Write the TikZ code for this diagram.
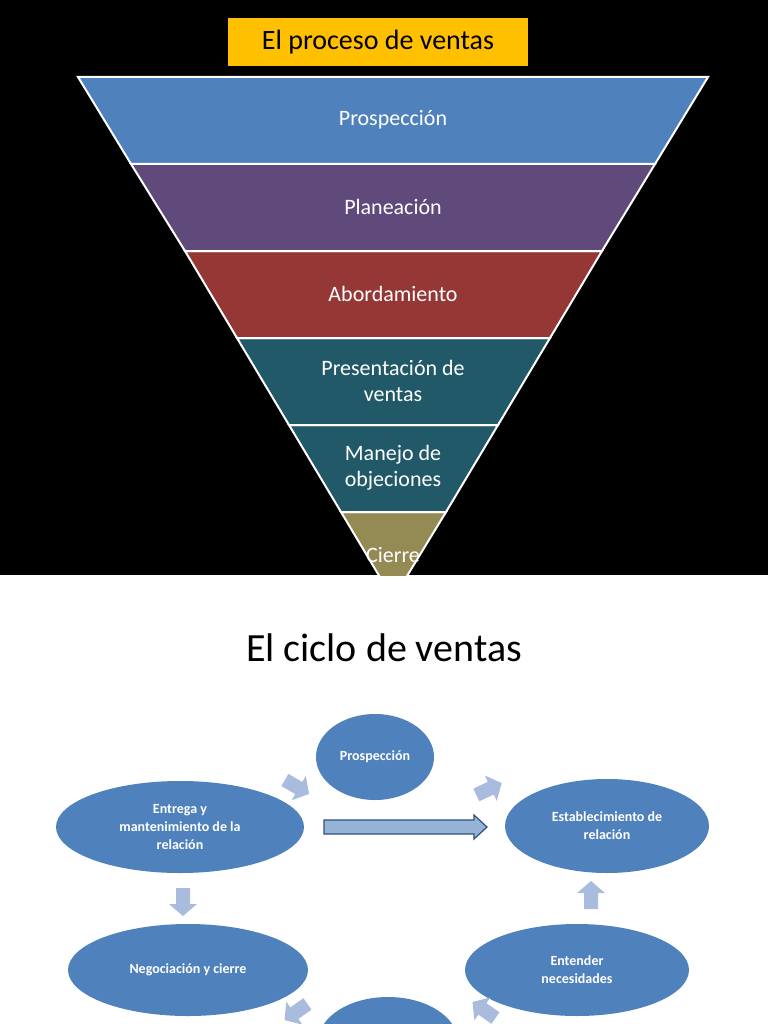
\documentclass[tikz,border=0pt]{standalone}
\usepackage{fontspec}
\setmainfont{Carlito}
\usetikzlibrary{shapes.geometric}
\definecolor{cProsp}{HTML}{4F81BD}
\definecolor{cPlan}{HTML}{604A7B}
\definecolor{cAbor}{HTML}{953735}
\definecolor{cTeal}{HTML}{215968}
\definecolor{cCier}{HTML}{948A54}
\definecolor{cYel}{HTML}{FFC000}
\definecolor{cSmall}{HTML}{A9BCDD}
\definecolor{cBig}{HTML}{95B3D7}
\definecolor{cBigLine}{HTML}{2F4F7F}
\tikzset{
  layer/.style={draw=white,line width=2pt},
  ftext/.style={text=white,font=\fontsize{22}{26}\selectfont,align=center},
  ell/.style={ellipse,fill=cProsp,text=white,font=\bfseries\fontsize{14}{18}\selectfont,align=center,inner sep=0pt},
  sarrow/.style={fill=cSmall}
}
\newcommand{\smallarr}[3]{\fill[sarrow,shift={(#1,#2)},rotate=#3] (-14,-7) -- (2,-7) -- (2,-14) -- (14,0) -- (2,14) -- (2,7) -- (-14,7) -- cycle;}
\begin{document}
\begin{tikzpicture}[x=1pt,y=-1pt]
\useasboundingbox (0,0) rectangle (768,1024);
\fill[black] (0,0) rectangle (768,575);
\fill[white] (0,575) rectangle (768,1024);
% title
\node[fill=cYel,minimum width=300pt,minimum height=48pt,font=\fontsize{28}{32}\selectfont,inner sep=0pt] (t1) at (378,42) {El proceso de ventas};
% funnel
\begin{scope}
\clip (0,0) rectangle (768,575);
\draw[layer,fill=cCier] (341,512) -- (446,512) -- (393,599) -- cycle;
\end{scope}
\draw[layer,fill=cTeal] (289,425) -- (498,425) -- (446,512) -- (341,512) -- cycle;
\draw[layer,fill=cTeal] (237,338) -- (550,338) -- (498,425) -- (289,425) -- cycle;
\draw[layer,fill=cAbor] (185,251) -- (602,251) -- (550,338) -- (237,338) -- cycle;
\draw[layer,fill=cPlan] (131,164) -- (655,164) -- (602,251) -- (185,251) -- cycle;
\draw[layer,fill=cProsp] (78,77) -- (708,77) -- (655,164) -- (131,164) -- cycle;
\node[ftext] (f1) at (393,120) {Prospección};
\node[ftext] (f2) at (393,207) {Planeación};
\node[ftext] (f3) at (393,294) {Abordamiento};
\node[ftext] (f4) at (393,381) {Presentación de\\ventas};
\node[ftext] (f5) at (393,468) {Manejo de\\objeciones};
\node[ftext] (f6) at (393,555) {Cierre};
% cycle
\node[font=\fontsize{40}{46}\selectfont] (t2) at (384,648) {El ciclo de ventas};
\node[ell,minimum width=118pt,minimum height=86pt] (e1) at (375,757) {Prospección};
\node[ell,minimum width=204pt,minimum height=94pt] (e2) at (607,826) {Establecimiento de\\relación};
\node[ell,minimum width=224pt,minimum height=92pt] (e3) at (577,970) {Entender\\necesidades};
\node[ell,minimum width=140pt,minimum height=90pt] (e4) at (388,1042) {};
\node[ell,minimum width=240pt,minimum height=92pt] (e5) at (188,970) {Negociación y cierre};
\node[ell,minimum width=248pt,minimum height=92pt] (e6) at (180,827) {Entrega y\\mantenimiento de la\\relación};
\smallarr{297}{787}{-30}
\smallarr{489}{789}{25}
\smallarr{591}{895}{90}
\smallarr{484}{1010}{145}
\smallarr{296}{1012}{-145}
\smallarr{183}{902}{-90}
\draw[fill=cBig,draw=cBigLine,line width=1.2pt] (324,820) -- (474,820) -- (474,815) -- (487,827) -- (474,839) -- (474,834) -- (324,834) -- cycle;
\end{tikzpicture}
\end{document}
